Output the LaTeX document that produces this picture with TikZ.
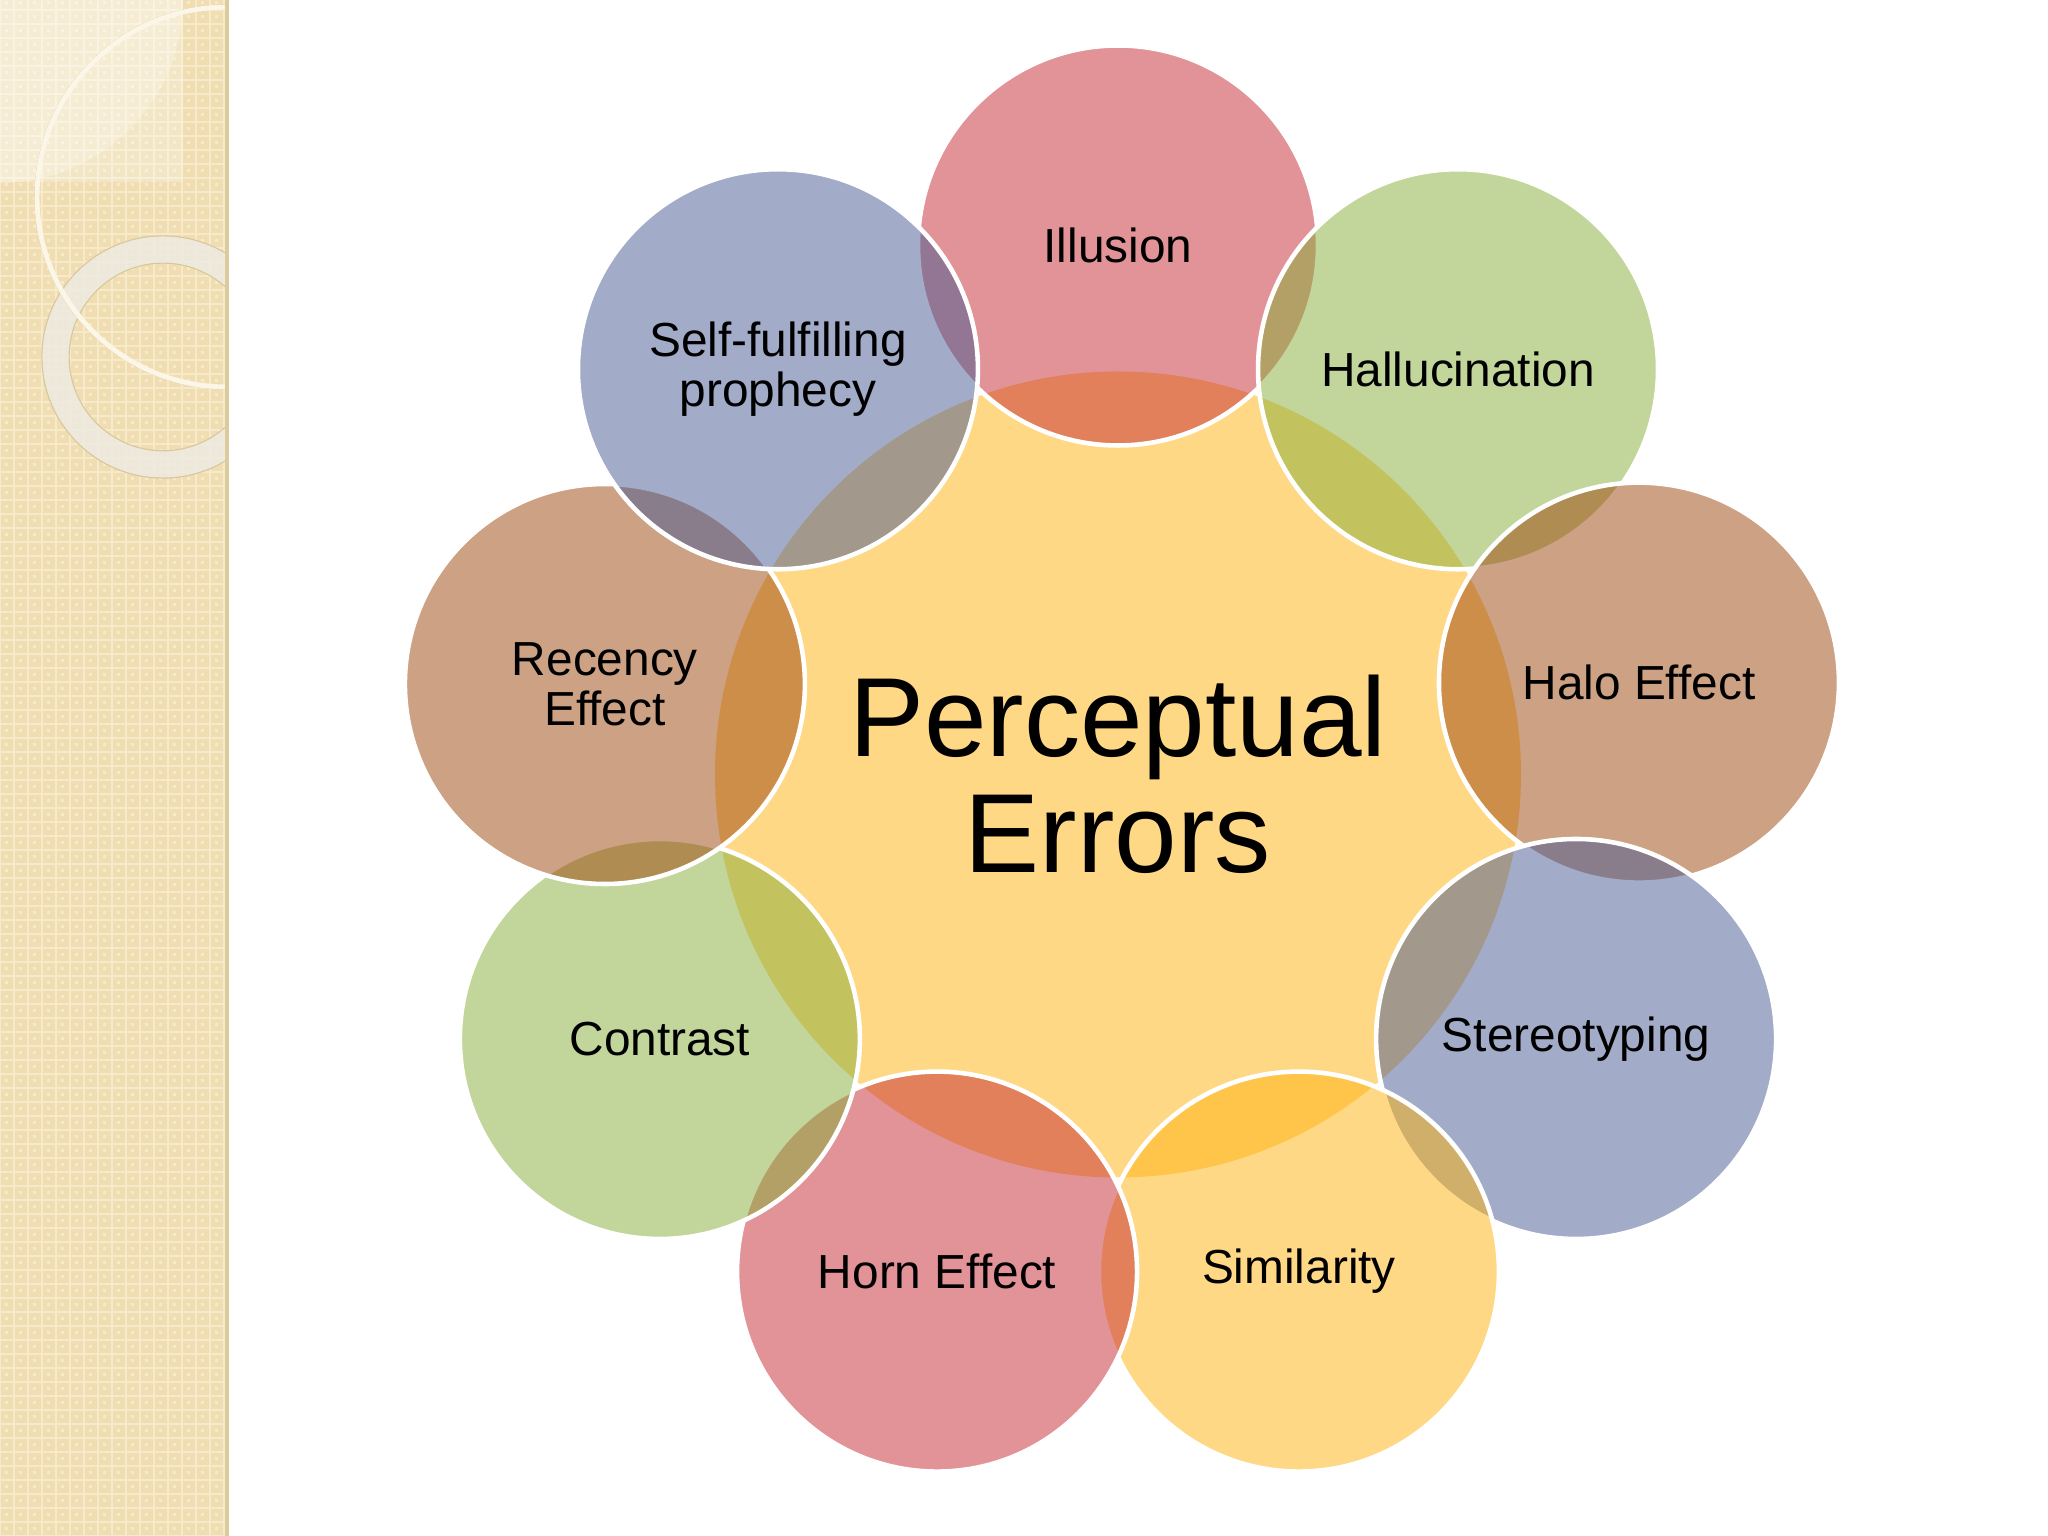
\documentclass[tikz,border=0pt]{standalone}
\usepackage{fontspec}
\setmainfont{Liberation Sans}
\usepackage{tikz}

% full colours, laid on at half opacity
\definecolor{pinkc}{HTML}{C52931}
\definecolor{greenc}{HTML}{87AD37}
\definecolor{brownc}{HTML}{9B450B}
\definecolor{bluec}{HTML}{475993}
\definecolor{yellowc}{HTML}{FFB30F}
\definecolor{stripc}{HTML}{F0DEB2}
\definecolor{gridc}{HTML}{F6EACB}
\definecolor{edgec}{HTML}{DCCB9F}
\definecolor{ringc}{HTML}{FBF6E8}
\definecolor{thickc}{HTML}{EEEADF}
\definecolor{shadec}{HTML}{D8C79C}

\newcommand{\labfont}{\fontsize{13.6}{14.2}\selectfont}
\newcommand{\bigfont}{\fontsize{32}{33}\selectfont}

\tikzset{
  bub/.style={circle, minimum size=4cm, inner sep=0pt, align=center, font=\labfont,
    fill opacity=0.5, text opacity=1, draw=white, line width=1.3pt}
}

\begin{document}
\begin{tikzpicture}
    \useasboundingbox (0,0) rectangle (20.48,15.36);
    \fill[white] (0,0) rectangle (20.48,15.36);

    % Draw the textured strip on the left
    \begin{scope}
        \clip (0,0) rectangle (2.27,15.36);
        \fill[stripc] (0,0) rectangle (2.27,15.36);
        \draw[gridc, line width=0.7pt, step=0.14] (0,0) grid (2.27,15.36);
        \foreach \i in {0,...,16}
            \foreach \j in {0,...,109}
                \fill[gridc] (0.14*\i+0.055,0.14*\j+0.055) rectangle ++(0.03,0.03);
        \fill[white, opacity=0.25] (0,13.54) rectangle (1.83,15.36);
        \fill[white, opacity=0.25] (0,15.36) -- (1.83,15.36) arc[start angle=0, end angle=-90, radius=1.83] -- cycle;
        % the two rings
        \draw[shadec, line width=0.4pt] (1.63,11.79) circle (1.21);
        \draw[shadec, line width=0.4pt] (1.63,11.79) circle (0.94);
        \draw[thickc, line width=7.4pt, opacity=0.9] (1.63,11.79) circle (1.075);
        \draw[shadec, line width=0.6pt] (2.27,13.39) circle (1.915);
        \draw[ringc, line width=1.4pt] (2.27,13.39) circle (1.9);
    \end{scope}
    \draw[edgec, line width=1.2pt] (2.27,0) -- (2.27,15.36);

    % Draw the big circle in the middle
    \node[circle, minimum size=8.06cm, inner sep=0pt, fill=yellowc, fill opacity=0.5, text opacity=1,
        align=center, font=\bigfont] (errors) at (11.18,7.615) {Perceptual\\Errors};

    % Draw the nine circles round it, clockwise from the top
    \foreach \ang/\rad/\nm/\col/\txt in {90/5.29/illusion/pinkc/Illusion,
        50/5.29/halluc/greenc/Hallucination,
        10/5.29/halo/brownc/Halo Effect,
        -30/5.29/stereo/bluec/Stereotyping,
        -70/5.29/similar/yellowc/Similarity,
        -110/5.29/horn/pinkc/Horn Effect,
        -150/5.29/contrast/greenc/Contrast,
        170/5.21/recency/brownc/{Recency\\Effect},
        130/5.29/selfful/bluec/{Self-fulfilling\\prophecy}}
        \node[bub, fill=\col] (\nm) at ([shift={(\ang:\rad)}]errors.center) {\txt};

\end{tikzpicture}
\end{document}
